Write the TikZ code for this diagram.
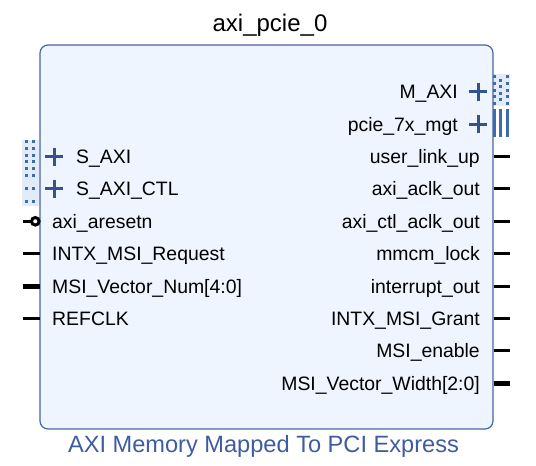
\documentclass[tikz,border=0pt]{standalone}
\usepackage{fontspec}
\setmainfont{Liberation Sans}
\definecolor{blkfill}{RGB}{238,245,255}
\definecolor{blkline}{RGB}{72,100,165}
\definecolor{plusblue}{RGB}{52,82,140}
\definecolor{intfblue}{RGB}{62,108,170}
\definecolor{intfbg}{RGB}{226,236,249}
\definecolor{vlnvblue}{RGB}{62,92,160}

\begin{document}
\begin{tikzpicture}[x=1pt,y=-1pt,
  pinlbl/.style={inner sep=0pt,font=\fontsize{19.4}{23}\selectfont},
  pinwire/.style={line width=3pt},
  buswire/.style={line width=5pt},
  plussign/.style={plusblue,line width=3pt},
  dotsq/.style={fill=intfblue}]
\useasboundingbox (0,0) rectangle (536,466);

% block
\node[draw=blkline,fill=blkfill,line width=1.2pt,rounded corners=8pt,
  minimum width=453,minimum height=384,inner sep=0pt] (ip) at (266.5,237) {};
\node[inner sep=0pt,anchor=base,font=\fontsize{24}{28}\selectfont] (inst) at (270,31) {axi\_pcie\_0};
\node[inner sep=0pt,anchor=base,text=vlnvblue,font=\fontsize{23.6}{28}\selectfont] (vlnv) at (263.5,452.5) {AXI Memory Mapped To PCI Express};

% left interfaces
\fill[intfbg] (22,140) rectangle (39,206);
\foreach \k in {0,...,4}
  \foreach \x in {26.7,33.3}
    \fill[dotsq] (\x-1.5,141.7+6.65*\k-1.5) rectangle ++(3,3);
\foreach \yy in {175,188.3,201.7}
  \foreach \x in {26.7,33.3}
    \fill[dotsq] (\x-1.5,\yy-1.5) rectangle ++(3,3);
\foreach \y in {156.5,188.9}
  \draw[plussign] (45,\y) -- (63,\y) (54,\y-9) -- (54,\y+9);
\node[pinlbl,anchor=base west] (saxi) at (76,163.5) {S\_AXI};
\node[pinlbl,anchor=base west] (saxictl) at (76,195.9) {S\_AXI\_CTL};

% left pins
\draw[pinwire] (23,221.3) -- (31,221.3);
\draw[line width=3pt,fill=white] (35.3,221.3) circle (3.8);
\node[pinlbl,anchor=base west] (aresetn) at (52,228.3) {axi\_aresetn};
\draw[pinwire] (23,253.7) -- (39.5,253.7);
\node[pinlbl,anchor=base west] (intxreq) at (52,260.7) {INTX\_MSI\_Request};
\draw[buswire] (23,286.1) -- (39.5,286.1);
\node[pinlbl,anchor=base west] (vecnum) at (52,293.1) {MSI\_Vector\_Num[4:0]};
\draw[pinwire] (23,318.5) -- (39.5,318.5);
\node[pinlbl,anchor=base west] (refclk) at (52,325.5) {REFCLK};

% right interfaces
\fill[intfbg] (494,74) rectangle (510,106);
\foreach \k in {0,...,4}
  \foreach \x in {494.5,507.3}
    \fill[dotsq] (\x-1.5,76.7+6.65*\k-1.5) rectangle ++(3,3);
\foreach \k in {0,...,3}
  \fill[dotsq] (500.7-1.5,80+6.65*\k-1.5) rectangle ++(3,3);
\foreach \x in {494.5,500.7,507.3}
  \fill[intfblue] (\x-1.5,109) rectangle (\x+1.5,137);
\foreach \y in {91.7,124.1}
  \draw[plussign] (469,\y) -- (487,\y) (478,\y-9) -- (478,\y+9);
\node[pinlbl,anchor=base east] (maxi) at (458,98.7) {M\_AXI};
\node[pinlbl,anchor=base east] (mgt) at (458,131.1) {pcie\_7x\_mgt};

% right pins
\foreach \y/\lbl [count=\i] in {156.5/user\_link\_up,188.9/axi\_aclk\_out,
    221.3/axi\_ctl\_aclk\_out,253.7/mmcm\_lock,286.1/interrupt\_out,
    318.5/INTX\_MSI\_Grant,350.9/MSI\_enable}{
  \draw[pinwire] (493.5,\y) -- (510,\y);
  \node[pinlbl,anchor=base east] (rpin\i) at (480,\y+7) {\lbl};
}
\draw[buswire] (493.5,383.3) -- (510,383.3);
\node[pinlbl,anchor=base east] (vecwidth) at (480,390.3) {MSI\_Vector\_Width[2:0]};
\end{tikzpicture}
\end{document}
